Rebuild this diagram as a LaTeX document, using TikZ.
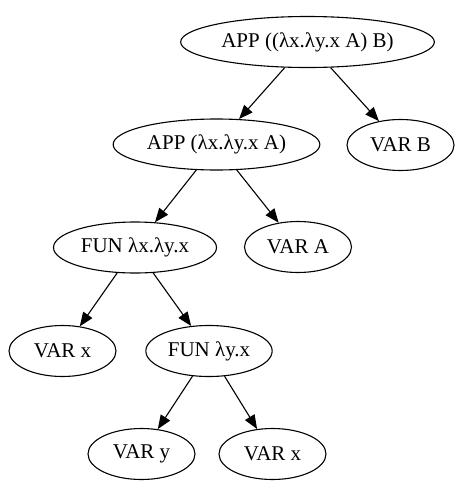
\documentclass[tikz,border=0pt]{standalone}
\usepackage{fontspec}
\setmainfont{Liberation Serif}
\usepackage{tikz}
\usetikzlibrary{shapes.geometric,arrows.meta}
\tikzset{
    tree-node/.style = {draw=black, ellipse, line width=1.1pt, inner xsep=3.5pt, inner ysep=2pt, minimum width=107pt, minimum height=51pt, font=\fontsize{21}{25}\selectfont},
    tree-edge/.style = {draw=black, line width=1.1pt, -{Triangle[length=14pt, width=11pt]}},
}
\begin{document}
\begin{tikzpicture}[x=1pt, y=-1pt]
\useasboundingbox (0,0) rectangle (474,493);
\node [tree-node] (root) at (307.5,42) {APP ((λx.λy.x A) B)};
\node [tree-node] (app) at (216.5,144.5) {APP (λx.λy.x A)};
\node [tree-node] (var-b) at (400.5,145) {VAR B};
\node [tree-node] (fun-x) at (135,247.5) {FUN λx.λy.x};
\node [tree-node] (var-a) at (298,247) {VAR A};
\node [tree-node] (var-x) at (62.5,351) {VAR x};
\node [tree-node] (fun-y) at (209,351) {FUN λy.x};
\node [tree-node] (var-y) at (141.5,454) {VAR y};
\node [tree-node] (var-x2) at (272.5,454) {VAR x};
\draw [tree-edge] (root) -- (app);
\draw [tree-edge] (root) -- (var-b);
\draw [tree-edge] (app) -- (fun-x);
\draw [tree-edge] (app) -- (var-a);
\draw [tree-edge] (fun-x) -- (var-x);
\draw [tree-edge] (fun-x) -- (fun-y);
\draw [tree-edge] (fun-y) -- (var-y);
\draw [tree-edge] (fun-y) -- (var-x2);
\end{tikzpicture}
\end{document}
